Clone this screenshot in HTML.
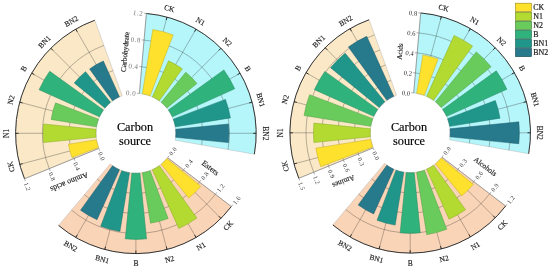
<!DOCTYPE html>
<html><head><meta charset="utf-8"><title>Carbon source</title>
<style>html,body{margin:0;padding:0;background:#fff;}svg{display:block}text{font-family:"Liberation Serif","Times New Roman",serif}</style></head>
<body><svg width="550" height="268" viewBox="0 0 550 268" fill="#222">
<rect width="550" height="268" fill="#fff"/>
<path d="M139.39,93.45L146.38,13.46A120.30,120.30 0 0 1 254.37,154.19L175.29,140.25A40.00,40.00 0 0 0 139.39,93.45Z" fill="#B4F6FA" stroke="#aaa" stroke-width="0.4"/>
<path d="M141.72,66.79A66.77,66.77 0 0 1 201.65,144.89" fill="none" stroke="#333" stroke-width="0.45" stroke-opacity="0.75"/>
<path d="M144.05,40.12A93.53,93.53 0 0 1 228.01,149.54" fill="none" stroke="#333" stroke-width="0.45" stroke-opacity="0.75"/>
<path d="M146.25,94.66L167.04,17.10" stroke="#333" stroke-width="0.45" stroke-opacity="0.75"/>
<path d="M155.90,98.66L196.05,29.12" stroke="#333" stroke-width="0.45" stroke-opacity="0.75"/>
<path d="M164.18,105.02L220.96,48.24" stroke="#333" stroke-width="0.45" stroke-opacity="0.75"/>
<path d="M170.54,113.30L240.08,73.15" stroke="#333" stroke-width="0.45" stroke-opacity="0.75"/>
<path d="M174.54,122.95L252.10,102.16" stroke="#333" stroke-width="0.45" stroke-opacity="0.75"/>
<path d="M175.90,133.30L256.20,133.30" stroke="#333" stroke-width="0.45" stroke-opacity="0.75"/>
<path d="M142.33,93.82L152.81,29.49A105.18,105.18 0 0 1 173.16,34.95L150.07,95.89A40.00,40.00 0 0 0 142.33,93.82Z" fill="#FDE12D" stroke="#C5AF23" stroke-width="0.5"/>
<path d="M152.33,96.83L168.54,60.83A79.48,79.48 0 0 1 182.34,68.80L159.27,100.84A40.00,40.00 0 0 0 152.33,96.83Z" fill="#B2DA30" stroke="#8AAA25" stroke-width="0.5"/>
<path d="M161.21,102.32L185.76,72.27A78.81,78.81 0 0 1 196.93,83.44L166.88,107.99A40.00,40.00 0 0 0 161.21,102.32Z" fill="#68CB5C" stroke="#519E47" stroke-width="0.5"/>
<path d="M168.36,109.93L223.87,69.97A108.39,108.39 0 0 1 234.72,88.78L172.37,116.87A40.00,40.00 0 0 0 168.36,109.93Z" fill="#30B27C" stroke="#258A60" stroke-width="0.5"/>
<path d="M173.31,119.13L225.43,99.38A95.74,95.74 0 0 1 230.40,117.91L175.38,126.87A40.00,40.00 0 0 0 173.31,119.13Z" fill="#20968A" stroke="#18756B" stroke-width="0.5"/>
<path d="M175.70,129.29L228.50,123.98A93.06,93.06 0 0 1 228.50,142.62L175.70,137.31A40.00,40.00 0 0 0 175.70,129.29Z" fill="#27798C" stroke="#1E5E6D" stroke-width="0.5"/>
<path d="M146.38,13.46A120.30,120.30 0 0 1 254.37,154.19" fill="none" stroke="#222" stroke-width="0.9"/>
<path d="M166.26,20.00L167.04,17.10" stroke="#222" stroke-width="0.9"/>
<path d="M194.55,31.72L196.05,29.12" stroke="#222" stroke-width="0.9"/>
<path d="M218.84,50.36L220.96,48.24" stroke="#222" stroke-width="0.9"/>
<path d="M237.48,74.65L240.08,73.15" stroke="#222" stroke-width="0.9"/>
<path d="M249.20,102.94L252.10,102.16" stroke="#222" stroke-width="0.9"/>
<path d="M253.20,133.30L256.20,133.30" stroke="#222" stroke-width="0.9"/>
<path d="M139.39,93.45L146.38,13.46" stroke="#666" stroke-width="0.5"/>
<text x="169.37" y="8.41" font-size="7.5" stroke="#222" stroke-width="0.15" text-anchor="middle" dominant-baseline="central" transform="rotate(15.0 169.37 8.41)">CK</text>
<text x="200.55" y="21.32" font-size="7.5" stroke="#222" stroke-width="0.15" text-anchor="middle" dominant-baseline="central" transform="rotate(30.0 200.55 21.32)">N1</text>
<text x="227.33" y="41.87" font-size="7.5" stroke="#222" stroke-width="0.15" text-anchor="middle" dominant-baseline="central" transform="rotate(45.0 227.33 41.87)">N2</text>
<text x="247.88" y="68.65" font-size="7.5" stroke="#222" stroke-width="0.15" text-anchor="middle" dominant-baseline="central" transform="rotate(60.0 247.88 68.65)">B</text>
<text x="260.79" y="99.83" font-size="7.5" stroke="#222" stroke-width="0.15" text-anchor="middle" dominant-baseline="central" transform="rotate(75.0 260.79 99.83)">BN1</text>
<text x="265.20" y="133.30" font-size="7.5" stroke="#222" stroke-width="0.15" text-anchor="middle" dominant-baseline="central" transform="rotate(90.0 265.20 133.30)">BN2</text>
<path d="M139.39,93.45l-2.49,-0.22" stroke="#666" stroke-width="0.5"/>
<text x="136.20" y="93.87" font-size="7.1" letter-spacing="0.45" fill="#787878" text-anchor="end" dominant-baseline="central" transform="rotate(5.0 136.20 93.87)">0.0</text>
<path d="M141.72,66.79l-2.49,-0.22" stroke="#666" stroke-width="0.5"/>
<text x="138.53" y="67.21" font-size="7.1" letter-spacing="0.45" fill="#787878" text-anchor="end" dominant-baseline="central" transform="rotate(5.0 138.53 67.21)">0.4</text>
<path d="M144.05,40.12l-2.49,-0.22" stroke="#666" stroke-width="0.5"/>
<text x="140.86" y="40.54" font-size="7.1" letter-spacing="0.45" fill="#787878" text-anchor="end" dominant-baseline="central" transform="rotate(5.0 140.86 40.54)">0.8</text>
<path d="M146.38,13.46l-2.49,-0.22" stroke="#666" stroke-width="0.5"/>
<text x="143.20" y="13.88" font-size="7.1" letter-spacing="0.45" fill="#787878" text-anchor="end" dominant-baseline="central" transform="rotate(5.0 143.20 13.88)">1.2</text>
<text x="124.95" y="51.89" font-size="7.45" stroke="#222" stroke-width="0.15" text-anchor="middle" dominant-baseline="central" transform="rotate(-85.0 124.95 51.89)">Carbohydrate</text>
<path d="M167.63,157.65L231.34,206.53A120.30,120.30 0 0 1 58.57,225.46L110.19,163.94A40.00,40.00 0 0 0 167.63,157.65Z" fill="#FAD4B6" stroke="#aaa" stroke-width="0.4"/>
<path d="M183.56,169.87A60.08,60.08 0 0 1 97.28,179.32" fill="none" stroke="#333" stroke-width="0.45" stroke-opacity="0.75"/>
<path d="M199.49,182.09A80.15,80.15 0 0 1 84.38,194.70" fill="none" stroke="#333" stroke-width="0.45" stroke-opacity="0.75"/>
<path d="M215.41,194.31A100.22,100.22 0 0 1 71.48,210.08" fill="none" stroke="#333" stroke-width="0.45" stroke-opacity="0.75"/>
<path d="M164.18,161.58L220.96,218.36" stroke="#333" stroke-width="0.45" stroke-opacity="0.75"/>
<path d="M155.90,167.94L196.05,237.48" stroke="#333" stroke-width="0.45" stroke-opacity="0.75"/>
<path d="M146.25,171.94L167.04,249.50" stroke="#333" stroke-width="0.45" stroke-opacity="0.75"/>
<path d="M135.90,173.30L135.90,253.60" stroke="#333" stroke-width="0.45" stroke-opacity="0.75"/>
<path d="M125.55,171.94L104.76,249.50" stroke="#333" stroke-width="0.45" stroke-opacity="0.75"/>
<path d="M115.90,167.94L75.75,237.48" stroke="#333" stroke-width="0.45" stroke-opacity="0.75"/>
<path d="M166.88,158.61L200.65,186.20A83.61,83.61 0 0 1 188.80,198.05L161.21,164.28A40.00,40.00 0 0 0 166.88,158.61Z" fill="#FDE12D" stroke="#C5AF23" stroke-width="0.5"/>
<path d="M159.27,165.76L196.89,218.02A104.39,104.39 0 0 1 178.78,228.48L152.33,169.77A40.00,40.00 0 0 0 159.27,165.76Z" fill="#B2DA30" stroke="#8AAA25" stroke-width="0.5"/>
<path d="M150.07,170.71L168.17,218.48A91.09,91.09 0 0 1 150.54,223.21L142.33,172.78A40.00,40.00 0 0 0 150.07,170.71Z" fill="#68CB5C" stroke="#519E47" stroke-width="0.5"/>
<path d="M139.91,173.10L146.53,238.86A106.10,106.10 0 0 1 125.27,238.86L131.89,173.10A40.00,40.00 0 0 0 139.91,173.10Z" fill="#30B27C" stroke="#258A60" stroke-width="0.5"/>
<path d="M129.47,172.78L119.93,231.38A99.37,99.37 0 0 1 100.69,226.23L121.73,170.71A40.00,40.00 0 0 0 129.47,172.78Z" fill="#20968A" stroke="#18756B" stroke-width="0.5"/>
<path d="M119.47,169.77L96.98,219.69A94.75,94.75 0 0 1 80.54,210.20L112.53,165.76A40.00,40.00 0 0 0 119.47,169.77Z" fill="#27798C" stroke="#1E5E6D" stroke-width="0.5"/>
<path d="M231.34,206.53A120.30,120.30 0 0 1 58.57,225.46" fill="none" stroke="#222" stroke-width="0.9"/>
<path d="M218.84,216.24L220.96,218.36" stroke="#222" stroke-width="0.9"/>
<path d="M194.55,234.88L196.05,237.48" stroke="#222" stroke-width="0.9"/>
<path d="M166.26,246.60L167.04,249.50" stroke="#222" stroke-width="0.9"/>
<path d="M135.90,250.60L135.90,253.60" stroke="#222" stroke-width="0.9"/>
<path d="M105.54,246.60L104.76,249.50" stroke="#222" stroke-width="0.9"/>
<path d="M77.25,234.88L75.75,237.48" stroke="#222" stroke-width="0.9"/>
<path d="M167.63,157.65L231.34,206.53" stroke="#666" stroke-width="0.5"/>
<text x="228.11" y="225.51" font-size="7.5" stroke="#222" stroke-width="0.15" text-anchor="middle" dominant-baseline="central" transform="rotate(-45.0 228.11 225.51)">CK</text>
<text x="201.10" y="246.23" font-size="7.5" stroke="#222" stroke-width="0.15" text-anchor="middle" dominant-baseline="central" transform="rotate(-30.0 201.10 246.23)">N1</text>
<text x="169.65" y="259.26" font-size="7.5" stroke="#222" stroke-width="0.15" text-anchor="middle" dominant-baseline="central" transform="rotate(-15.0 169.65 259.26)">N2</text>
<text x="135.90" y="263.70" font-size="7.5" stroke="#222" stroke-width="0.15" text-anchor="middle" dominant-baseline="central" transform="rotate(0.0 135.90 263.70)">B</text>
<text x="102.15" y="259.26" font-size="7.5" stroke="#222" stroke-width="0.15" text-anchor="middle" dominant-baseline="central" transform="rotate(15.0 102.15 259.26)">BN1</text>
<text x="70.70" y="246.23" font-size="7.5" stroke="#222" stroke-width="0.15" text-anchor="middle" dominant-baseline="central" transform="rotate(30.0 70.70 246.23)">BN2</text>
<path d="M167.63,157.65l1.52,-1.98" stroke="#666" stroke-width="0.5"/>
<text x="170.07" y="154.48" font-size="6.3" letter-spacing="0.3" fill="#333" text-anchor="start" dominant-baseline="central" transform="rotate(-52.5 170.07 154.48)">0.0</text>
<path d="M183.56,169.87l1.52,-1.98" stroke="#666" stroke-width="0.5"/>
<text x="186.00" y="166.70" font-size="6.3" letter-spacing="0.3" fill="#333" text-anchor="start" dominant-baseline="central" transform="rotate(-52.5 186.00 166.70)">0.4</text>
<path d="M199.49,182.09l1.52,-1.98" stroke="#666" stroke-width="0.5"/>
<text x="201.92" y="178.92" font-size="6.3" letter-spacing="0.3" fill="#333" text-anchor="start" dominant-baseline="central" transform="rotate(-52.5 201.92 178.92)">0.8</text>
<path d="M215.41,194.31l1.52,-1.98" stroke="#666" stroke-width="0.5"/>
<text x="217.85" y="191.14" font-size="6.3" letter-spacing="0.3" fill="#333" text-anchor="start" dominant-baseline="central" transform="rotate(-52.5 217.85 191.14)">1.2</text>
<path d="M231.34,206.53l1.52,-1.98" stroke="#666" stroke-width="0.5"/>
<text x="233.78" y="203.36" font-size="6.3" letter-spacing="0.3" fill="#333" text-anchor="start" dominant-baseline="central" transform="rotate(-52.5 233.78 203.36)">1.6</text>
<text x="210.32" y="167.97" font-size="7.9" stroke="#222" stroke-width="0.15" text-anchor="middle" dominant-baseline="central" transform="rotate(37.5 210.32 167.97)">Esters</text>
<path d="M98.87,148.41L24.52,178.75A120.30,120.30 0 0 1 94.75,20.25L122.22,95.71A40.00,40.00 0 0 0 98.87,148.41Z" fill="#FAE8C6" stroke="#aaa" stroke-width="0.4"/>
<path d="M74.08,158.53A66.77,66.77 0 0 1 113.06,70.56" fill="none" stroke="#333" stroke-width="0.45" stroke-opacity="0.75"/>
<path d="M49.30,168.64A93.53,93.53 0 0 1 103.91,45.41" fill="none" stroke="#333" stroke-width="0.45" stroke-opacity="0.75"/>
<path d="M97.26,143.65L19.70,164.44" stroke="#333" stroke-width="0.45" stroke-opacity="0.75"/>
<path d="M95.90,133.30L15.60,133.30" stroke="#333" stroke-width="0.45" stroke-opacity="0.75"/>
<path d="M97.26,122.95L19.70,102.16" stroke="#333" stroke-width="0.45" stroke-opacity="0.75"/>
<path d="M101.26,113.30L31.72,73.15" stroke="#333" stroke-width="0.45" stroke-opacity="0.75"/>
<path d="M107.62,105.02L50.84,48.24" stroke="#333" stroke-width="0.45" stroke-opacity="0.75"/>
<path d="M115.90,98.66L75.75,29.12" stroke="#333" stroke-width="0.45" stroke-opacity="0.75"/>
<path d="M98.49,147.47L72.02,157.50A68.31,68.31 0 0 1 68.48,144.28L96.42,139.73A40.00,40.00 0 0 0 98.49,147.47Z" fill="#FDE12D" stroke="#C5AF23" stroke-width="0.5"/>
<path d="M96.10,137.31L43.50,142.60A92.86,92.86 0 0 1 43.50,124.00L96.10,129.29A40.00,40.00 0 0 0 96.10,137.31Z" fill="#B2DA30" stroke="#8AAA25" stroke-width="0.5"/>
<path d="M96.42,126.87L51.11,119.49A85.90,85.90 0 0 1 55.57,102.86L98.49,119.13A40.00,40.00 0 0 0 96.42,126.87Z" fill="#68CB5C" stroke="#519E47" stroke-width="0.5"/>
<path d="M99.43,116.87L39.09,89.69A106.18,106.18 0 0 1 49.73,71.26L103.44,109.93A40.00,40.00 0 0 0 99.43,116.87Z" fill="#30B27C" stroke="#258A60" stroke-width="0.5"/>
<path d="M104.92,107.99L74.25,82.93A79.61,79.61 0 0 1 85.53,71.65L110.59,102.32A40.00,40.00 0 0 0 104.92,107.99Z" fill="#20968A" stroke="#18756B" stroke-width="0.5"/>
<path d="M112.53,100.84L89.58,68.96A79.28,79.28 0 0 1 103.34,61.02L119.47,96.83A40.00,40.00 0 0 0 112.53,100.84Z" fill="#27798C" stroke="#1E5E6D" stroke-width="0.5"/>
<path d="M24.52,178.75A120.30,120.30 0 0 1 94.75,20.25" fill="none" stroke="#222" stroke-width="0.9"/>
<path d="M22.60,163.66L19.70,164.44" stroke="#222" stroke-width="0.9"/>
<path d="M18.60,133.30L15.60,133.30" stroke="#222" stroke-width="0.9"/>
<path d="M22.60,102.94L19.70,102.16" stroke="#222" stroke-width="0.9"/>
<path d="M34.32,74.65L31.72,73.15" stroke="#222" stroke-width="0.9"/>
<path d="M52.96,50.36L50.84,48.24" stroke="#222" stroke-width="0.9"/>
<path d="M77.25,31.72L75.75,29.12" stroke="#222" stroke-width="0.9"/>
<path d="M98.87,148.41L24.52,178.75" stroke="#666" stroke-width="0.5"/>
<text x="11.01" y="166.77" font-size="7.5" stroke="#222" stroke-width="0.15" text-anchor="middle" dominant-baseline="central" transform="rotate(-105.0 11.01 166.77)">CK</text>
<text x="6.60" y="133.30" font-size="7.5" stroke="#222" stroke-width="0.15" text-anchor="middle" dominant-baseline="central" transform="rotate(-90.0 6.60 133.30)">N1</text>
<text x="11.01" y="99.83" font-size="7.5" stroke="#222" stroke-width="0.15" text-anchor="middle" dominant-baseline="central" transform="rotate(-75.0 11.01 99.83)">N2</text>
<text x="23.92" y="68.65" font-size="7.5" stroke="#222" stroke-width="0.15" text-anchor="middle" dominant-baseline="central" transform="rotate(-60.0 23.92 68.65)">B</text>
<text x="44.47" y="41.87" font-size="7.5" stroke="#222" stroke-width="0.15" text-anchor="middle" dominant-baseline="central" transform="rotate(-45.0 44.47 41.87)">BN1</text>
<text x="71.25" y="21.32" font-size="7.5" stroke="#222" stroke-width="0.15" text-anchor="middle" dominant-baseline="central" transform="rotate(-30.0 71.25 21.32)">BN2</text>
<path d="M98.87,148.41l0.94,2.31" stroke="#666" stroke-width="0.5"/>
<text x="100.38" y="152.12" font-size="6.3" letter-spacing="0.3" fill="#333" text-anchor="start" dominant-baseline="central" transform="rotate(-292.2 100.38 152.12)">0.0</text>
<path d="M74.08,158.53l0.94,2.31" stroke="#666" stroke-width="0.5"/>
<text x="75.59" y="162.23" font-size="6.3" letter-spacing="0.3" fill="#333" text-anchor="start" dominant-baseline="central" transform="rotate(-292.2 75.59 162.23)">0.4</text>
<path d="M49.30,168.64l0.94,2.31" stroke="#666" stroke-width="0.5"/>
<text x="50.81" y="172.34" font-size="6.3" letter-spacing="0.3" fill="#333" text-anchor="start" dominant-baseline="central" transform="rotate(-292.2 50.81 172.34)">0.8</text>
<path d="M24.52,178.75l0.94,2.31" stroke="#666" stroke-width="0.5"/>
<text x="26.03" y="182.46" font-size="6.3" letter-spacing="0.3" fill="#333" text-anchor="start" dominant-baseline="central" transform="rotate(-292.2 26.03 182.46)">1.2</text>
<text x="69.25" y="182.10" font-size="7.9" stroke="#222" stroke-width="0.15" text-anchor="middle" dominant-baseline="central" transform="rotate(-202.2 69.25 182.10)">Amino acids</text>
<text x="135" y="130.8" font-size="12.3" text-anchor="middle" fill="#000" stroke="#000" stroke-width="0.15">Carbon</text>
<text x="135" y="144.8" font-size="12.3" text-anchor="middle" fill="#000" stroke="#000" stroke-width="0.15">source</text>
<path d="M413.69,92.95L420.68,12.96A120.30,120.30 0 0 1 528.67,153.69L449.59,139.75A40.00,40.00 0 0 0 413.69,92.95Z" fill="#B4F6FA" stroke="#aaa" stroke-width="0.4"/>
<path d="M415.44,72.95A60.08,60.08 0 0 1 469.36,143.23" fill="none" stroke="#333" stroke-width="0.45" stroke-opacity="0.75"/>
<path d="M417.19,52.95A80.15,80.15 0 0 1 489.13,146.72" fill="none" stroke="#333" stroke-width="0.45" stroke-opacity="0.75"/>
<path d="M418.94,32.96A100.22,100.22 0 0 1 508.90,150.20" fill="none" stroke="#333" stroke-width="0.45" stroke-opacity="0.75"/>
<path d="M420.55,94.16L441.34,16.60" stroke="#333" stroke-width="0.45" stroke-opacity="0.75"/>
<path d="M430.20,98.16L470.35,28.62" stroke="#333" stroke-width="0.45" stroke-opacity="0.75"/>
<path d="M438.48,104.52L495.26,47.74" stroke="#333" stroke-width="0.45" stroke-opacity="0.75"/>
<path d="M444.84,112.80L514.38,72.65" stroke="#333" stroke-width="0.45" stroke-opacity="0.75"/>
<path d="M448.84,122.45L526.40,101.66" stroke="#333" stroke-width="0.45" stroke-opacity="0.75"/>
<path d="M450.20,132.80L530.50,132.80" stroke="#333" stroke-width="0.45" stroke-opacity="0.75"/>
<path d="M416.63,93.32L422.89,54.88A78.95,78.95 0 0 1 438.17,58.98L424.37,95.39A40.00,40.00 0 0 0 416.63,93.32Z" fill="#FDE12D" stroke="#C5AF23" stroke-width="0.5"/>
<path d="M426.63,96.33L454.09,35.38A106.85,106.85 0 0 1 472.63,46.08L433.57,100.34A40.00,40.00 0 0 0 426.63,96.33Z" fill="#B2DA30" stroke="#8AAA25" stroke-width="0.5"/>
<path d="M435.51,101.82L476.28,51.92A104.44,104.44 0 0 1 491.08,66.72L441.18,107.49A40.00,40.00 0 0 0 435.51,101.82Z" fill="#68CB5C" stroke="#519E47" stroke-width="0.5"/>
<path d="M442.66,109.43L496.26,70.84A106.05,106.05 0 0 1 506.89,89.24L446.67,116.37A40.00,40.00 0 0 0 442.66,109.43Z" fill="#30B27C" stroke="#258A60" stroke-width="0.5"/>
<path d="M447.61,118.63L495.29,100.56A90.99,90.99 0 0 1 500.01,118.17L449.68,126.37A40.00,40.00 0 0 0 447.61,118.63Z" fill="#20968A" stroke="#18756B" stroke-width="0.5"/>
<path d="M450.00,128.79L518.81,121.86A109.16,109.16 0 0 1 518.81,143.74L450.00,136.81A40.00,40.00 0 0 0 450.00,128.79Z" fill="#27798C" stroke="#1E5E6D" stroke-width="0.5"/>
<path d="M420.68,12.96A120.30,120.30 0 0 1 528.67,153.69" fill="none" stroke="#222" stroke-width="0.9"/>
<path d="M440.56,19.50L441.34,16.60" stroke="#222" stroke-width="0.9"/>
<path d="M468.85,31.22L470.35,28.62" stroke="#222" stroke-width="0.9"/>
<path d="M493.14,49.86L495.26,47.74" stroke="#222" stroke-width="0.9"/>
<path d="M511.78,74.15L514.38,72.65" stroke="#222" stroke-width="0.9"/>
<path d="M523.50,102.44L526.40,101.66" stroke="#222" stroke-width="0.9"/>
<path d="M527.50,132.80L530.50,132.80" stroke="#222" stroke-width="0.9"/>
<path d="M413.69,92.95L420.68,12.96" stroke="#666" stroke-width="0.5"/>
<text x="443.67" y="7.91" font-size="7.5" stroke="#222" stroke-width="0.15" text-anchor="middle" dominant-baseline="central" transform="rotate(15.0 443.67 7.91)">CK</text>
<text x="474.85" y="20.82" font-size="7.5" stroke="#222" stroke-width="0.15" text-anchor="middle" dominant-baseline="central" transform="rotate(30.0 474.85 20.82)">N1</text>
<text x="501.63" y="41.37" font-size="7.5" stroke="#222" stroke-width="0.15" text-anchor="middle" dominant-baseline="central" transform="rotate(45.0 501.63 41.37)">N2</text>
<text x="522.18" y="68.15" font-size="7.5" stroke="#222" stroke-width="0.15" text-anchor="middle" dominant-baseline="central" transform="rotate(60.0 522.18 68.15)">B</text>
<text x="535.09" y="99.33" font-size="7.5" stroke="#222" stroke-width="0.15" text-anchor="middle" dominant-baseline="central" transform="rotate(75.0 535.09 99.33)">BN1</text>
<text x="539.50" y="132.80" font-size="7.5" stroke="#222" stroke-width="0.15" text-anchor="middle" dominant-baseline="central" transform="rotate(90.0 539.50 132.80)">BN2</text>
<path d="M413.69,92.95l-2.49,-0.22" stroke="#666" stroke-width="0.5"/>
<text x="410.30" y="93.36" font-size="6.7" letter-spacing="0.0" fill="#2a2a2a" text-anchor="end" dominant-baseline="central" transform="rotate(5.0 410.30 93.36)">0.0</text>
<path d="M415.44,72.95l-2.49,-0.22" stroke="#666" stroke-width="0.5"/>
<text x="412.05" y="73.36" font-size="6.7" letter-spacing="0.0" fill="#2a2a2a" text-anchor="end" dominant-baseline="central" transform="rotate(5.0 412.05 73.36)">0.2</text>
<path d="M417.19,52.95l-2.49,-0.22" stroke="#666" stroke-width="0.5"/>
<text x="413.80" y="53.36" font-size="6.7" letter-spacing="0.0" fill="#2a2a2a" text-anchor="end" dominant-baseline="central" transform="rotate(5.0 413.80 53.36)">0.4</text>
<path d="M418.94,32.96l-2.49,-0.22" stroke="#666" stroke-width="0.5"/>
<text x="415.55" y="33.36" font-size="6.7" letter-spacing="0.0" fill="#2a2a2a" text-anchor="end" dominant-baseline="central" transform="rotate(5.0 415.55 33.36)">0.6</text>
<path d="M420.68,12.96l-2.49,-0.22" stroke="#666" stroke-width="0.5"/>
<text x="417.30" y="13.36" font-size="6.7" letter-spacing="0.0" fill="#2a2a2a" text-anchor="end" dominant-baseline="central" transform="rotate(5.0 417.30 13.36)">0.8</text>
<text x="400.25" y="51.47" font-size="7.0" stroke="#222" stroke-width="0.15" text-anchor="middle" dominant-baseline="central" transform="rotate(-85.0 400.25 51.47)">Acids</text>
<path d="M441.93,157.15L505.64,206.03A120.30,120.30 0 0 1 332.87,224.96L384.49,163.44A40.00,40.00 0 0 0 441.93,157.15Z" fill="#FAD4B6" stroke="#aaa" stroke-width="0.4"/>
<path d="M457.86,169.37A60.08,60.08 0 0 1 371.58,178.82" fill="none" stroke="#333" stroke-width="0.45" stroke-opacity="0.75"/>
<path d="M473.79,181.59A80.15,80.15 0 0 1 358.68,194.20" fill="none" stroke="#333" stroke-width="0.45" stroke-opacity="0.75"/>
<path d="M489.71,193.81A100.23,100.23 0 0 1 345.78,209.58" fill="none" stroke="#333" stroke-width="0.45" stroke-opacity="0.75"/>
<path d="M438.48,161.08L495.26,217.86" stroke="#333" stroke-width="0.45" stroke-opacity="0.75"/>
<path d="M430.20,167.44L470.35,236.98" stroke="#333" stroke-width="0.45" stroke-opacity="0.75"/>
<path d="M420.55,171.44L441.34,249.00" stroke="#333" stroke-width="0.45" stroke-opacity="0.75"/>
<path d="M410.20,172.80L410.20,253.10" stroke="#333" stroke-width="0.45" stroke-opacity="0.75"/>
<path d="M399.85,171.44L379.06,249.00" stroke="#333" stroke-width="0.45" stroke-opacity="0.75"/>
<path d="M390.20,167.44L350.05,236.98" stroke="#333" stroke-width="0.45" stroke-opacity="0.75"/>
<path d="M441.18,158.11L473.30,184.36A81.49,81.49 0 0 1 461.76,195.90L435.51,163.78A40.00,40.00 0 0 0 441.18,158.11Z" fill="#FDE12D" stroke="#C5AF23" stroke-width="0.5"/>
<path d="M433.57,165.26L465.55,209.69A94.74,94.74 0 0 1 449.11,219.18L426.63,169.27A40.00,40.00 0 0 0 433.57,165.26Z" fill="#B2DA30" stroke="#8AAA25" stroke-width="0.5"/>
<path d="M424.37,170.21L446.75,229.28A103.17,103.17 0 0 1 426.78,234.63L416.63,172.28A40.00,40.00 0 0 0 424.37,170.21Z" fill="#68CB5C" stroke="#519E47" stroke-width="0.5"/>
<path d="M414.21,172.60L420.27,232.79A100.49,100.49 0 0 1 400.13,232.79L406.19,172.60A40.00,40.00 0 0 0 414.21,172.60Z" fill="#30B27C" stroke="#258A60" stroke-width="0.5"/>
<path d="M403.77,172.28L395.17,225.12A93.53,93.53 0 0 1 377.06,220.27L396.03,170.21A40.00,40.00 0 0 0 403.77,172.28Z" fill="#20968A" stroke="#18756B" stroke-width="0.5"/>
<path d="M393.77,169.27L373.65,213.93A88.98,88.98 0 0 1 358.21,205.02L386.83,165.26A40.00,40.00 0 0 0 393.77,169.27Z" fill="#27798C" stroke="#1E5E6D" stroke-width="0.5"/>
<path d="M505.64,206.03A120.30,120.30 0 0 1 332.87,224.96" fill="none" stroke="#222" stroke-width="0.9"/>
<path d="M493.14,215.74L495.26,217.86" stroke="#222" stroke-width="0.9"/>
<path d="M468.85,234.38L470.35,236.98" stroke="#222" stroke-width="0.9"/>
<path d="M440.56,246.10L441.34,249.00" stroke="#222" stroke-width="0.9"/>
<path d="M410.20,250.10L410.20,253.10" stroke="#222" stroke-width="0.9"/>
<path d="M379.84,246.10L379.06,249.00" stroke="#222" stroke-width="0.9"/>
<path d="M351.55,234.38L350.05,236.98" stroke="#222" stroke-width="0.9"/>
<path d="M441.93,157.15L505.64,206.03" stroke="#666" stroke-width="0.5"/>
<text x="502.41" y="225.01" font-size="7.5" stroke="#222" stroke-width="0.15" text-anchor="middle" dominant-baseline="central" transform="rotate(-45.0 502.41 225.01)">CK</text>
<text x="475.40" y="245.73" font-size="7.5" stroke="#222" stroke-width="0.15" text-anchor="middle" dominant-baseline="central" transform="rotate(-30.0 475.40 245.73)">N1</text>
<text x="443.95" y="258.76" font-size="7.5" stroke="#222" stroke-width="0.15" text-anchor="middle" dominant-baseline="central" transform="rotate(-15.0 443.95 258.76)">N2</text>
<text x="410.20" y="263.20" font-size="7.5" stroke="#222" stroke-width="0.15" text-anchor="middle" dominant-baseline="central" transform="rotate(0.0 410.20 263.20)">B</text>
<text x="376.45" y="258.76" font-size="7.5" stroke="#222" stroke-width="0.15" text-anchor="middle" dominant-baseline="central" transform="rotate(15.0 376.45 258.76)">BN1</text>
<text x="345.00" y="245.73" font-size="7.5" stroke="#222" stroke-width="0.15" text-anchor="middle" dominant-baseline="central" transform="rotate(30.0 345.00 245.73)">BN2</text>
<path d="M441.93,157.15l1.52,-1.98" stroke="#666" stroke-width="0.5"/>
<text x="444.37" y="153.98" font-size="6.3" letter-spacing="0.3" fill="#333" text-anchor="start" dominant-baseline="central" transform="rotate(-52.5 444.37 153.98)">0.0</text>
<path d="M457.86,169.37l1.52,-1.98" stroke="#666" stroke-width="0.5"/>
<text x="460.30" y="166.20" font-size="6.3" letter-spacing="0.3" fill="#333" text-anchor="start" dominant-baseline="central" transform="rotate(-52.5 460.30 166.20)">0.3</text>
<path d="M473.79,181.59l1.52,-1.98" stroke="#666" stroke-width="0.5"/>
<text x="476.22" y="178.42" font-size="6.3" letter-spacing="0.3" fill="#333" text-anchor="start" dominant-baseline="central" transform="rotate(-52.5 476.22 178.42)">0.6</text>
<path d="M489.71,193.81l1.52,-1.98" stroke="#666" stroke-width="0.5"/>
<text x="492.15" y="190.64" font-size="6.3" letter-spacing="0.3" fill="#333" text-anchor="start" dominant-baseline="central" transform="rotate(-52.5 492.15 190.64)">0.9</text>
<path d="M505.64,206.03l1.52,-1.98" stroke="#666" stroke-width="0.5"/>
<text x="508.08" y="202.86" font-size="6.3" letter-spacing="0.3" fill="#333" text-anchor="start" dominant-baseline="central" transform="rotate(-52.5 508.08 202.86)">1.2</text>
<text x="485.35" y="166.52" font-size="7.4" stroke="#222" stroke-width="0.15" text-anchor="middle" dominant-baseline="central" transform="rotate(37.5 485.35 166.52)">Alcohols</text>
<path d="M373.17,147.91L298.82,178.25A120.30,120.30 0 0 1 369.05,19.75L396.52,95.21A40.00,40.00 0 0 0 373.17,147.91Z" fill="#FAE8C6" stroke="#aaa" stroke-width="0.4"/>
<path d="M358.30,153.98A56.06,56.06 0 0 1 391.03,80.12" fill="none" stroke="#333" stroke-width="0.45" stroke-opacity="0.75"/>
<path d="M343.43,160.05A72.12,72.12 0 0 1 385.53,65.03" fill="none" stroke="#333" stroke-width="0.45" stroke-opacity="0.75"/>
<path d="M328.56,166.12A88.18,88.18 0 0 1 380.04,49.94" fill="none" stroke="#333" stroke-width="0.45" stroke-opacity="0.75"/>
<path d="M313.69,172.19A104.24,104.24 0 0 1 374.55,34.85" fill="none" stroke="#333" stroke-width="0.45" stroke-opacity="0.75"/>
<path d="M371.56,143.15L294.00,163.94" stroke="#333" stroke-width="0.45" stroke-opacity="0.75"/>
<path d="M370.20,132.80L289.90,132.80" stroke="#333" stroke-width="0.45" stroke-opacity="0.75"/>
<path d="M371.56,122.45L294.00,101.66" stroke="#333" stroke-width="0.45" stroke-opacity="0.75"/>
<path d="M375.56,112.80L306.02,72.65" stroke="#333" stroke-width="0.45" stroke-opacity="0.75"/>
<path d="M381.92,104.52L325.14,47.74" stroke="#333" stroke-width="0.45" stroke-opacity="0.75"/>
<path d="M390.20,98.16L350.05,28.62" stroke="#333" stroke-width="0.45" stroke-opacity="0.75"/>
<path d="M372.79,146.97L320.78,166.68A95.62,95.62 0 0 1 315.82,148.17L370.72,139.23A40.00,40.00 0 0 0 372.79,146.97Z" fill="#FDE12D" stroke="#C5AF23" stroke-width="0.5"/>
<path d="M370.40,136.81L313.89,142.50A96.80,96.80 0 0 1 313.89,123.10L370.40,128.79A40.00,40.00 0 0 0 370.40,136.81Z" fill="#B2DA30" stroke="#8AAA25" stroke-width="0.5"/>
<path d="M370.72,126.37L304.04,115.51A107.56,107.56 0 0 1 309.62,94.69L372.79,118.63A40.00,40.00 0 0 0 370.72,126.37Z" fill="#68CB5C" stroke="#519E47" stroke-width="0.5"/>
<path d="M373.73,116.37L314.38,89.63A105.10,105.10 0 0 1 324.91,71.40L377.74,109.43A40.00,40.00 0 0 0 373.73,116.37Z" fill="#30B27C" stroke="#258A60" stroke-width="0.5"/>
<path d="M379.22,107.49L330.56,67.73A102.85,102.85 0 0 1 345.13,53.16L384.89,101.82A40.00,40.00 0 0 0 379.22,107.49Z" fill="#20968A" stroke="#18756B" stroke-width="0.5"/>
<path d="M386.83,100.34L348.39,46.94A105.79,105.79 0 0 1 366.75,36.34L393.77,96.33A40.00,40.00 0 0 0 386.83,100.34Z" fill="#27798C" stroke="#1E5E6D" stroke-width="0.5"/>
<path d="M298.82,178.25A120.30,120.30 0 0 1 369.05,19.75" fill="none" stroke="#222" stroke-width="0.9"/>
<path d="M296.90,163.16L294.00,163.94" stroke="#222" stroke-width="0.9"/>
<path d="M292.90,132.80L289.90,132.80" stroke="#222" stroke-width="0.9"/>
<path d="M296.90,102.44L294.00,101.66" stroke="#222" stroke-width="0.9"/>
<path d="M308.62,74.15L306.02,72.65" stroke="#222" stroke-width="0.9"/>
<path d="M327.26,49.86L325.14,47.74" stroke="#222" stroke-width="0.9"/>
<path d="M351.55,31.22L350.05,28.62" stroke="#222" stroke-width="0.9"/>
<path d="M373.17,147.91L298.82,178.25" stroke="#666" stroke-width="0.5"/>
<text x="285.31" y="166.27" font-size="7.5" stroke="#222" stroke-width="0.15" text-anchor="middle" dominant-baseline="central" transform="rotate(-105.0 285.31 166.27)">CK</text>
<text x="280.90" y="132.80" font-size="7.5" stroke="#222" stroke-width="0.15" text-anchor="middle" dominant-baseline="central" transform="rotate(-90.0 280.90 132.80)">N1</text>
<text x="285.31" y="99.33" font-size="7.5" stroke="#222" stroke-width="0.15" text-anchor="middle" dominant-baseline="central" transform="rotate(-75.0 285.31 99.33)">N2</text>
<text x="298.22" y="68.15" font-size="7.5" stroke="#222" stroke-width="0.15" text-anchor="middle" dominant-baseline="central" transform="rotate(-60.0 298.22 68.15)">B</text>
<text x="318.77" y="41.37" font-size="7.5" stroke="#222" stroke-width="0.15" text-anchor="middle" dominant-baseline="central" transform="rotate(-45.0 318.77 41.37)">BN1</text>
<text x="345.55" y="20.82" font-size="7.5" stroke="#222" stroke-width="0.15" text-anchor="middle" dominant-baseline="central" transform="rotate(-30.0 345.55 20.82)">BN2</text>
<path d="M373.17,147.91l0.94,2.31" stroke="#666" stroke-width="0.5"/>
<text x="374.68" y="151.62" font-size="6.3" letter-spacing="0.3" fill="#333" text-anchor="start" dominant-baseline="central" transform="rotate(-292.2 374.68 151.62)">0.0</text>
<path d="M358.30,153.98l0.94,2.31" stroke="#666" stroke-width="0.5"/>
<text x="359.81" y="157.69" font-size="6.3" letter-spacing="0.3" fill="#333" text-anchor="start" dominant-baseline="central" transform="rotate(-292.2 359.81 157.69)">0.3</text>
<path d="M343.43,160.05l0.94,2.31" stroke="#666" stroke-width="0.5"/>
<text x="344.94" y="163.75" font-size="6.3" letter-spacing="0.3" fill="#333" text-anchor="start" dominant-baseline="central" transform="rotate(-292.2 344.94 163.75)">0.6</text>
<path d="M328.56,166.12l0.94,2.31" stroke="#666" stroke-width="0.5"/>
<text x="330.07" y="169.82" font-size="6.3" letter-spacing="0.3" fill="#333" text-anchor="start" dominant-baseline="central" transform="rotate(-292.2 330.07 169.82)">0.9</text>
<path d="M313.69,172.19l0.94,2.31" stroke="#666" stroke-width="0.5"/>
<text x="315.20" y="175.89" font-size="6.3" letter-spacing="0.3" fill="#333" text-anchor="start" dominant-baseline="central" transform="rotate(-292.2 315.20 175.89)">1.2</text>
<path d="M298.82,178.25l0.94,2.31" stroke="#666" stroke-width="0.5"/>
<text x="300.33" y="181.96" font-size="6.3" letter-spacing="0.3" fill="#333" text-anchor="start" dominant-baseline="central" transform="rotate(-292.2 300.33 181.96)">1.5</text>
<text x="343.55" y="181.60" font-size="7.5" stroke="#222" stroke-width="0.15" text-anchor="middle" dominant-baseline="central" transform="rotate(-202.2 343.55 181.60)">Amines</text>
<text x="409" y="130.8" font-size="12.3" text-anchor="middle" fill="#000" stroke="#000" stroke-width="0.15">Carbon</text>
<text x="409" y="144.8" font-size="12.3" text-anchor="middle" fill="#000" stroke="#000" stroke-width="0.15">source</text>
<rect x="515.5" y="3.20" width="16" height="8.2" fill="#FDE12D" stroke="#97871B" stroke-width="0.6"/>
<text x="533.2" y="10.00" font-size="7.9" stroke="#222" stroke-width="0.2">CK</text>
<rect x="515.5" y="12.25" width="16" height="8.2" fill="#B2DA30" stroke="#6A821C" stroke-width="0.6"/>
<text x="533.2" y="19.05" font-size="7.9" stroke="#222" stroke-width="0.2">N1</text>
<rect x="515.5" y="21.30" width="16" height="8.2" fill="#68CB5C" stroke="#3E7937" stroke-width="0.6"/>
<text x="533.2" y="28.10" font-size="7.9" stroke="#222" stroke-width="0.2">N2</text>
<rect x="515.5" y="30.35" width="16" height="8.2" fill="#30B27C" stroke="#1C6A4A" stroke-width="0.6"/>
<text x="533.2" y="37.15" font-size="7.9" stroke="#222" stroke-width="0.2">B</text>
<rect x="515.5" y="39.40" width="16" height="8.2" fill="#20968A" stroke="#135A52" stroke-width="0.6"/>
<text x="533.2" y="46.20" font-size="7.9" stroke="#222" stroke-width="0.2">BN1</text>
<rect x="515.5" y="48.45" width="16" height="8.2" fill="#27798C" stroke="#174854" stroke-width="0.6"/>
<text x="533.2" y="55.25" font-size="7.9" stroke="#222" stroke-width="0.2">BN2</text>
</svg></body></html>
